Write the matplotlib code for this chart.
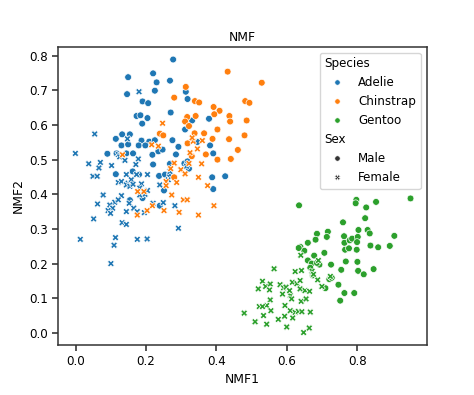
import numpy as np
import pandas as pd
import matplotlib
matplotlib.use("Agg")
import matplotlib.pyplot as plt
import seaborn as sns

adelie_male_x = [0.277,0.149,0.220,0.230,0.268,0.146,0.225,0.313,0.318,0.190,0.206,0.173,0.184,0.204,0.270,0.189,0.331,0.379,0.311,0.114,0.132,0.154,0.130,0.149,0.187,0.209,0.225,0.275,0.090,0.116,0.144,0.163,0.179,0.198,0.218,0.235,0.247,0.292,0.285,0.309,0.318,0.346,0.382,0.391,0.220,0.268,0.322,0.114,0.180,0.237,0.254,0.268,0.388,0.425,0.391,0.251,0.190,0.239,0.154,0.162]
adelie_male_y = [0.789,0.738,0.749,0.723,0.728,0.689,0.699,0.696,0.675,0.668,0.663,0.626,0.628,0.620,0.636,0.604,0.613,0.618,0.587,0.560,0.573,0.573,0.541,0.544,0.555,0.552,0.556,0.556,0.517,0.518,0.518,0.518,0.541,0.541,0.514,0.524,0.529,0.537,0.515,0.489,0.495,0.551,0.541,0.518,0.486,0.488,0.474,0.458,0.457,0.453,0.457,0.457,0.449,0.452,0.415,0.411,0.389,0.367,0.383,0.466]

adelie_female_x = [0.180,0.054,-0.001,0.147,0.121,0.125,0.140,0.178,0.171,0.070,0.037,0.066,0.102,0.049,0.061,0.144,0.121,0.130,0.149,0.158,0.144,0.154,0.163,0.187,0.182,0.197,0.204,0.239,0.130,0.111,0.097,0.105,0.121,0.062,0.092,0.099,0.144,0.152,0.165,0.175,0.195,0.220,0.249,0.282,0.051,0.132,0.144,0.292,0.013,0.113,0.109,0.175,0.203,0.078,0.182,0.268,0.315,0.263,0.204,0.173,0.100]
adelie_female_y = [0.696,0.574,0.518,0.560,0.515,0.508,0.498,0.502,0.486,0.492,0.488,0.476,0.483,0.452,0.452,0.457,0.434,0.437,0.432,0.442,0.427,0.423,0.429,0.430,0.418,0.400,0.457,0.427,0.396,0.377,0.369,0.360,0.384,0.372,0.353,0.345,0.350,0.374,0.360,0.350,0.347,0.374,0.376,0.367,0.329,0.318,0.313,0.302,0.270,0.275,0.253,0.270,0.271,0.398,0.398,0.466,0.481,0.442,0.411,0.457,0.200]

chinstrap_male_x = [0.432,0.529,0.313,0.280,0.339,0.351,0.482,0.494,0.392,0.409,0.394,0.437,0.317,0.341,0.486,0.311,0.439,0.322,0.403,0.239,0.338,0.365,0.436,0.480,0.389,0.318,0.370,0.330,0.403,0.441,0.461,0.280,0.249]
chinstrap_male_y = [0.754,0.722,0.710,0.679,0.669,0.665,0.669,0.664,0.652,0.641,0.631,0.626,0.623,0.626,0.613,0.610,0.610,0.597,0.587,0.575,0.576,0.576,0.559,0.570,0.560,0.547,0.515,0.510,0.500,0.502,0.528,0.449,0.570]

chinstrap_female_x = [0.247,0.216,0.235,0.133,0.334,0.360,0.346,0.325,0.280,0.322,0.358,0.270,0.299,0.311,0.257,0.287,0.349,0.375,0.176,0.194,0.257,0.273,0.306,0.317,0.218,0.203,0.175,0.251,0.294,0.349,0.393,0.331]
chinstrap_female_y = [0.605,0.543,0.539,0.514,0.553,0.555,0.531,0.520,0.490,0.489,0.488,0.474,0.471,0.459,0.437,0.434,0.449,0.425,0.408,0.408,0.425,0.398,0.384,0.384,0.367,0.353,0.340,0.353,0.348,0.340,0.367,0.563]

gentoo_male_x = [0.635,0.798,0.796,0.826,0.854,0.952,0.760,0.823,0.686,0.717,0.682,0.660,0.714,0.763,0.804,0.830,0.836,0.906,0.639,0.650,0.634,0.764,0.766,0.779,0.786,0.802,0.800,0.777,0.799,0.838,0.860,0.893,0.707,0.678,0.660,0.671,0.667,0.693,0.726,0.755,0.768,0.801,0.803,0.819,0.847,0.674,0.721,0.728,0.710,0.747,0.764,0.792,0.752,0.686]
gentoo_male_y = [0.368,0.384,0.374,0.362,0.378,0.388,0.319,0.331,0.286,0.292,0.269,0.260,0.277,0.279,0.297,0.297,0.287,0.280,0.248,0.237,0.245,0.260,0.240,0.267,0.272,0.277,0.262,0.244,0.240,0.252,0.247,0.251,0.231,0.223,0.209,0.200,0.188,0.197,0.197,0.182,0.206,0.205,0.179,0.169,0.184,0.166,0.155,0.159,0.129,0.139,0.115,0.115,0.093,0.202]

gentoo_female_x = [0.640,0.690,0.564,0.624,0.642,0.672,0.531,0.519,0.540,0.553,0.551,0.581,0.591,0.598,0.616,0.629,0.638,0.588,0.610,0.638,0.652,0.665,0.688,0.700,0.724,0.553,0.543,0.522,0.531,0.595,0.614,0.641,0.655,0.479,0.534,0.555,0.594,0.610,0.624,0.633,0.643,0.667,0.510,0.543,0.576,0.600,0.617,0.648,0.664,0.676,0.608]
gentoo_female_y = [0.224,0.209,0.185,0.177,0.180,0.178,0.149,0.127,0.134,0.141,0.124,0.139,0.130,0.132,0.146,0.142,0.151,0.112,0.108,0.127,0.122,0.120,0.153,0.134,0.163,0.095,0.079,0.076,0.076,0.079,0.098,0.091,0.098,0.057,0.050,0.064,0.048,0.064,0.059,0.062,0.061,0.060,0.032,0.025,0.039,0.017,0.043,0.001,0.014,0.169,0.122]

species_order = ["Adelie", "Chinstrap", "Gentoo"]
sex_order = ["Male", "Female"]
subtitles = ["Species", "Sex"]

groups = [
    ("Adelie", "Male", adelie_male_x, adelie_male_y),
    ("Adelie", "Female", adelie_female_x, adelie_female_y),
    ("Chinstrap", "Male", chinstrap_male_x, chinstrap_male_y),
    ("Chinstrap", "Female", chinstrap_female_x, chinstrap_female_y),
    ("Gentoo", "Male", gentoo_male_x, gentoo_male_y),
    ("Gentoo", "Female", gentoo_female_x, gentoo_female_y),
]
rows = []
for sp, sx, xs, ys in groups:
    for a, b in zip(xs, ys):
        rows.append({"NMF1": a, "NMF2": b, "Species": sp, "Sex": sx})
df = pd.DataFrame(rows)

sns.set_style("ticks")
plt.rcParams['font.family'] = ['DejaVu Sans']
plt.rcParams.update({
    "text.color": "black",
    "axes.labelcolor": "black",
    "xtick.color": "0.15",
    "ytick.color": "0.15",
    "xtick.labelcolor": "black",
    "ytick.labelcolor": "black",
    "axes.edgecolor": "0.2",
})

FS = 8.6
fig = plt.figure(figsize=(4.74, 3.95), dpi=100)
ax = fig.add_axes([0.1234, 0.1266, 0.7768, 0.7552])
sns.scatterplot(data=df, x="NMF1", y="NMF2", hue="Species", style="Sex",
                hue_order=species_order, style_order=sex_order,
                s=24, ax=ax, linewidth=0.5, edgecolor="white")
ax.set_xlim(-0.049, 0.998)
ax.set_ylim(-0.035, 0.826)
ax.set_xticks([0.0, 0.2, 0.4, 0.6, 0.8])
ax.set_yticks([0.0, 0.1, 0.2, 0.3, 0.4, 0.5, 0.6, 0.7, 0.8])
ax.tick_params(labelsize=FS, length=4.5, width=1.1, pad=3)
for sp in ax.spines.values():
    sp.set_linewidth(1.1)
ax.set_xlabel("NMF1", fontsize=FS + 0.3, labelpad=3)
ax.set_ylabel("NMF2", fontsize=FS + 0.3, labelpad=3)
ax.set_title("NMF", fontsize=FS + 0.3, pad=4)
leg = ax.legend(loc="upper right", fontsize=FS, markerscale=0.8)

# subtitle entries ("Species", "Sex") start near the marker column
for column in leg._legend_handle_box.get_children():
    for hpack in column.get_children():
        draw_area, text_area = hpack.get_children()
        txts = [t.get_text() for t in text_area.get_children()]
        if any(t in subtitles for t in txts):
            draw_area.set_width(8)
            draw_area.set_visible(False)

fig.savefig("out.png", dpi=100)
